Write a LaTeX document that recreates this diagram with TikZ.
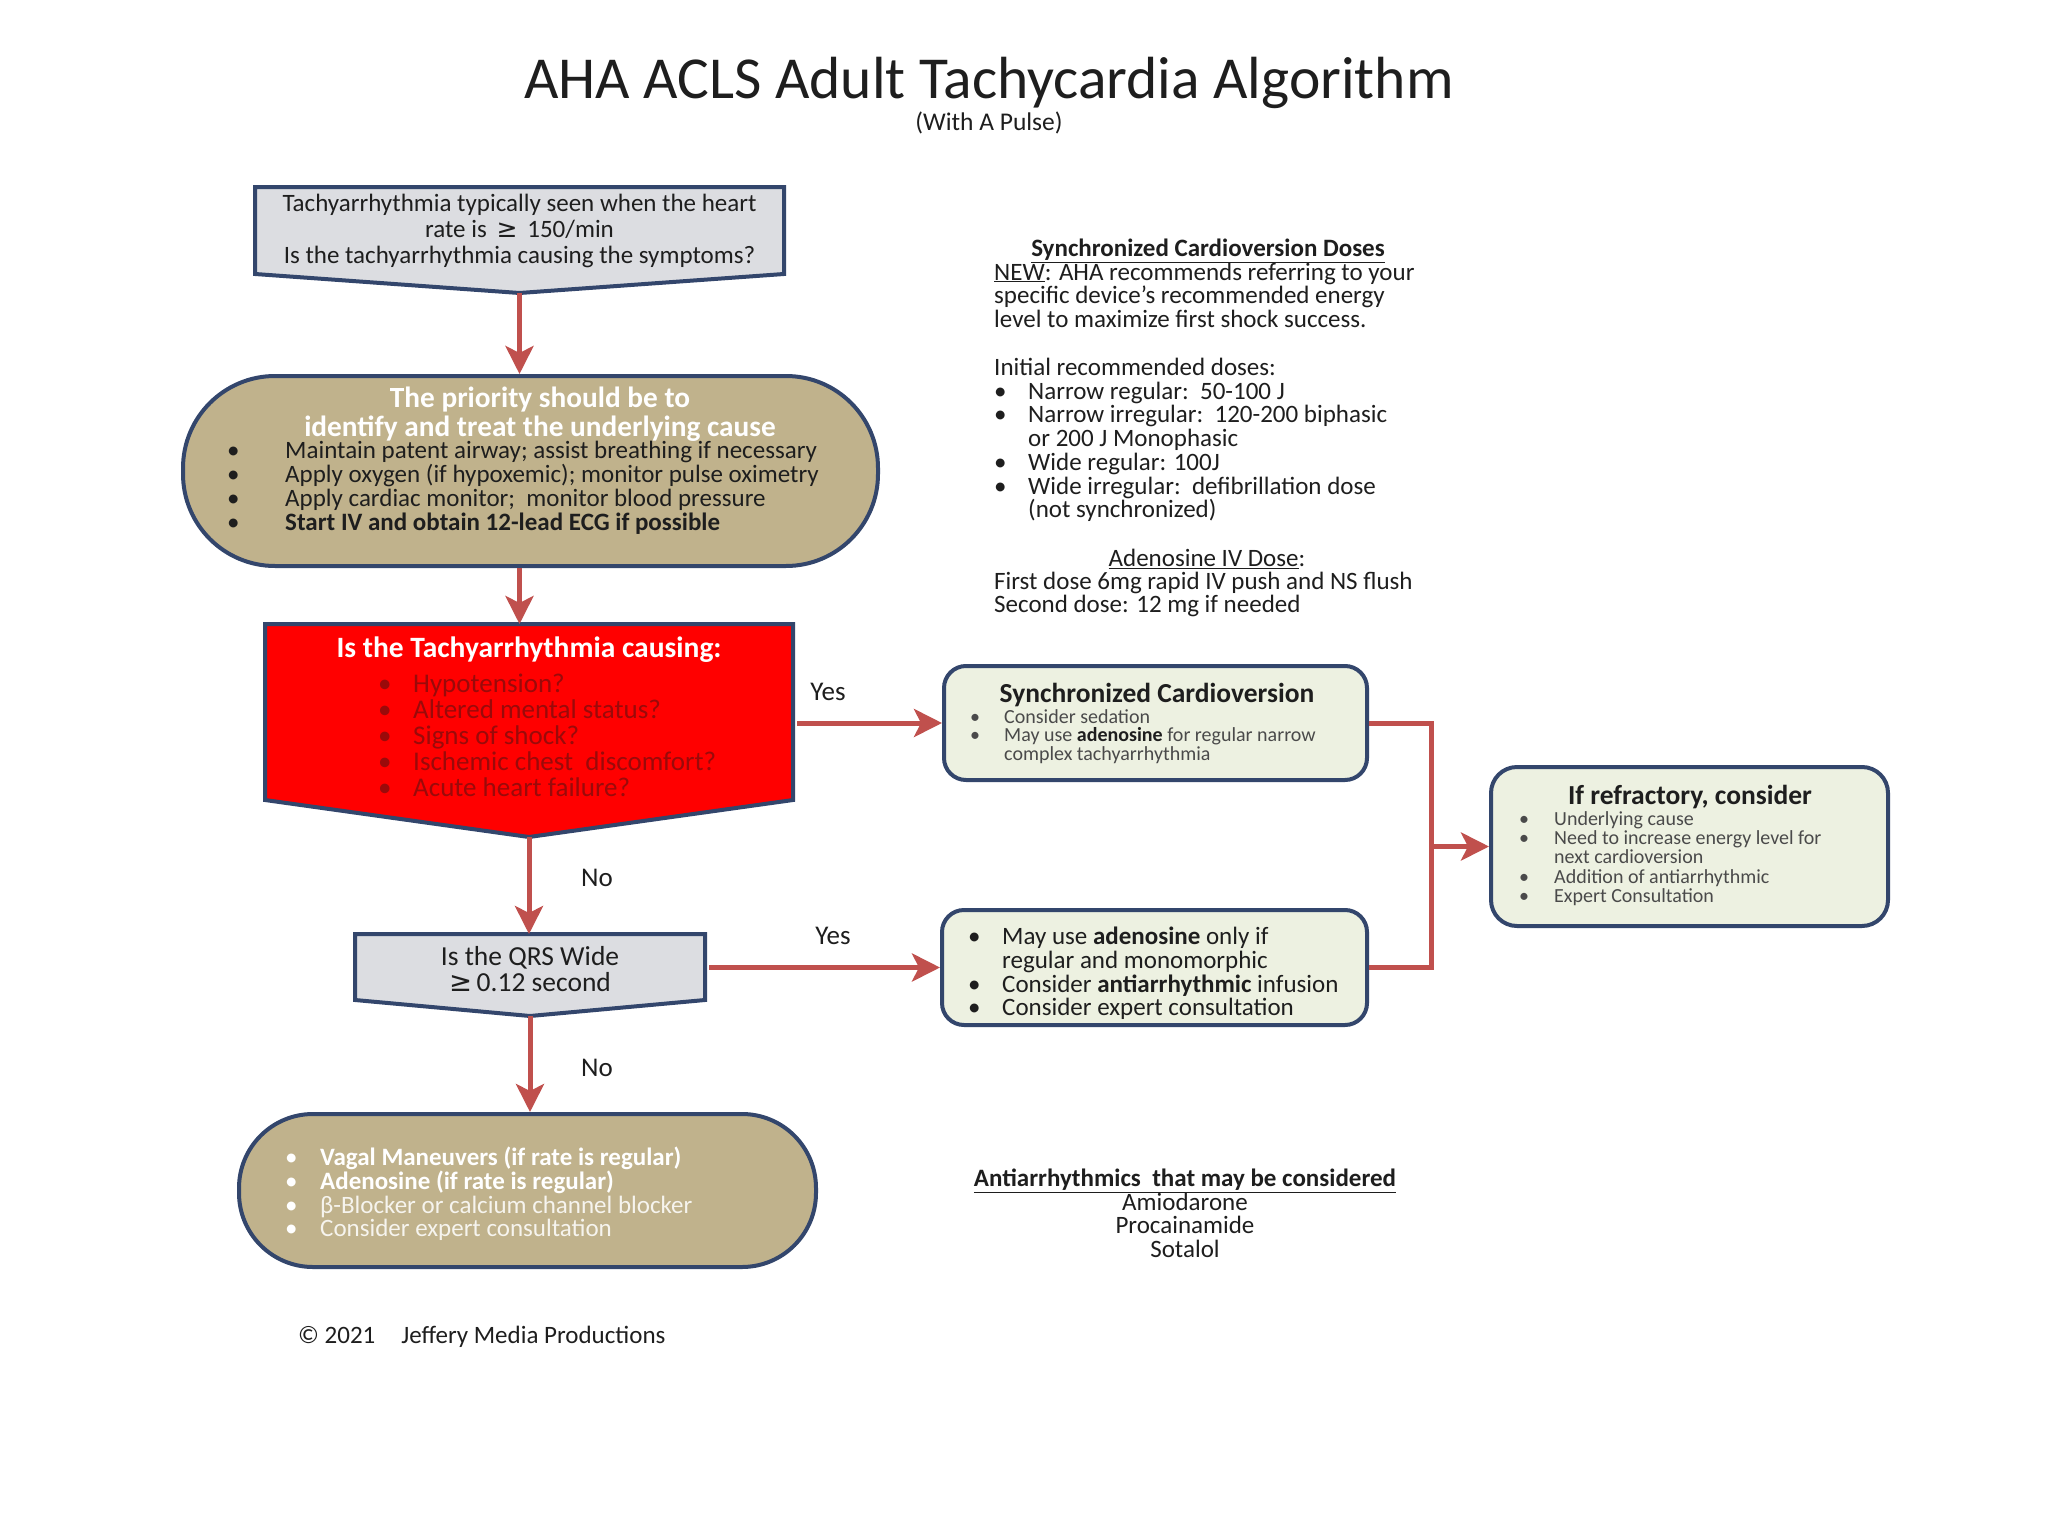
\documentclass[tikz,border=0pt]{standalone}
\usepackage{fontspec}
\setmainfont{Carlito}
\newfontfamily\symfont{DejaVu Sans}
\usetikzlibrary{arrows.meta,calc}
\definecolor{bord}{HTML}{33466C}
\definecolor{gbox}{HTML}{DCDDE1}
\definecolor{tanfill}{HTML}{C0B28C}
\definecolor{pgreen}{HTML}{EDF1E1}
\definecolor{arrred}{HTML}{C0504D}
\definecolor{txt}{HTML}{1E1E1E}
\definecolor{dred}{HTML}{9A0A0A}
\definecolor{graytxt}{HTML}{4A4A4A}
\newcommand\fsz[2]{\fontsize{#1}{#2}\selectfont}
\newcommand\bul[2]{\makebox[#1][l]{•}{#2}}
\begin{document}
\begin{tikzpicture}[x=1pt,y=-1pt,
  frame/.style={draw=bord, line width=4pt},
  holder/.style={inner sep=0pt, outer sep=0pt},
  txtblock/.style={inner sep=0pt, align=left, text=txt},
  ctext/.style={inner sep=0pt, align=center, text=txt},
  arr/.style={draw=arrred, line width=5pt, -{Stealth[length=28pt,width=28pt,inset=7pt]}},
  conn/.style={draw=arrred, line width=5pt},
  lbl/.style={inner sep=0pt, text=txt, font=\fsz{27}{28}}]
\useasboundingbox[fill=white] (0,0) rectangle (2048,1536);

% title
\node[ctext, font=\fsz{59.5}{62}] (title) at (989,83) {AHA ACLS Adult Tachycardia Algorithm};
\node[ctext, font=\fsz{25.5}{27}] (subtitle) at (989,123) {(With A Pulse)};

% box 1
\node[holder, minimum width=529pt, minimum height=87pt] (b1) at (519.5,230.5) {};
\coordinate (b1tip) at (519.5,293);
\draw[frame, fill=gbox] (b1.north west) -- (b1.north east) -- (b1.south east) -- (b1tip) -- (b1.south west) -- cycle;
\node[ctext, font=\fsz{25}{26}] (t1) at (519.5,230.5) {Tachyarrhythmia typically seen when the heart\\ rate is \,{\symfont ≥}\, 150/min\\ Is the tachyarrhythmia causing the symptoms?};

% box 2
\node[frame, fill=tanfill, rounded corners=92pt, minimum width=695pt, minimum height=190pt, inner sep=0pt] (b2) at (530.5,471) {};
\node[ctext, text=white, font=\fsz{29.3}{29}\bfseries] (t2h) at (540,414) {The priority should be to\\ identify and treat the underlying cause};
\node[txtblock, anchor=west, font=\fsz{25}{24}] (t2b) at (227,488) {\bul{58pt}{Maintain patent airway; assist breathing if necessary}\\
 \bul{58pt}{Apply oxygen (if hypoxemic); monitor pulse oximetry}\\
 \bul{58pt}{Apply cardiac monitor;\ \ monitor blood pressure}\\
 \bul{58pt}{\bfseries Start IV and obtain 12-lead ECG if possible}};

% box 3
\node[holder, minimum width=528pt, minimum height=176pt] (b3) at (529,712) {};
\coordinate (b3tip) at (529,837);
\draw[frame, fill=red] (b3.north west) -- (b3.north east) -- (b3.south east) -- (b3tip) -- (b3.south west) -- cycle;
\node[ctext, text=white, font=\fsz{29.5}{30}\bfseries] (t3h) at (529,650) {Is the Tachyarrhythmia causing:};
\node[txtblock, text=dred, anchor=west, font=\fsz{27}{26}] (t3b) at (378,735) {\bul{35pt}{Hypotension?}\\
 \bul{35pt}{Altered mental status?}\\
 \bul{35pt}{Signs of shock?}\\
 \bul{35pt}{Ischemic chest\ \ discomfort?}\\
 \bul{35pt}{Acute heart failure?}};

% box 4
\node[holder, minimum width=350pt, minimum height=66pt] (b4) at (530,967) {};
\coordinate (b4tip) at (530,1016);
\draw[frame, fill=gbox] (b4.north west) -- (b4.north east) -- (b4.south east) -- (b4tip) -- (b4.south west) -- cycle;
\node[ctext, font=\fsz{27.5}{26}] (t4) at (530,969) {Is the QRS Wide\\ {\symfont ≥}\,0.12 second};

% box 5
\node[frame, fill=tanfill, rounded corners=74pt, minimum width=577pt, minimum height=153pt, inner sep=0pt] (b5) at (527.5,1190.5) {};
\node[txtblock, text=white, anchor=west, font=\fsz{25}{23.7}] (t5) at (285,1194) {\bul{35pt}{\bfseries Vagal Maneuvers (if rate is regular)}\\
 \bul{35pt}{\bfseries Adenosine (if rate is regular)}\\
 \bul{35pt}{\color{white!85!tanfill}β-Blocker or calcium channel blocker}\\
 \bul{35pt}{\color{white!85!tanfill}Consider expert consultation}};

% box 6
\node[frame, fill=pgreen, rounded corners=22pt, minimum width=423pt, minimum height=114pt, inner sep=0pt] (b6) at (1155.5,723) {};
\node[ctext, font=\fsz{27.5}{28}\bfseries] (t6h) at (1157,695.5) {Synchronized Cardioversion};
\node[txtblock, text=graytxt, anchor=west, font=\fsz{20}{18.5}] (t6b) at (970,736.5) {\bul{34pt}{Consider sedation}\\
 \bul{34pt}{May use \textbf{\color{txt}adenosine} for regular narrow}\\
 \hspace*{34pt}complex tachyarrhythmia};

% box 7
\node[frame, fill=pgreen, rounded corners=22pt, minimum width=425pt, minimum height=115pt, inner sep=0pt] (b7) at (1154.5,967.5) {};
\node[txtblock, anchor=west, font=\fsz{25}{23.7}] (t7b) at (968,973.5) {\bul{34pt}{May use \textbf{adenosine} only if}\\
 \hspace*{34pt}regular and monomorphic\\
 \bul{34pt}{Consider \textbf{antiarrhythmic} infusion}\\
 \bul{34pt}{Consider expert consultation}};

% box 8
\node[frame, fill=pgreen, rounded corners=26pt, minimum width=397pt, minimum height=159pt, inner sep=0pt] (b8) at (1689.5,846.5) {};
\node[ctext, font=\fsz{27.5}{28}\bfseries] (t8h) at (1690,797.5) {If refractory, consider};
\node[txtblock, text=graytxt, anchor=west, font=\fsz{20}{19.2}] (t8b) at (1519,858.5) {\bul{35pt}{Underlying cause}\\
 \bul{35pt}{Need to increase energy level for}\\
 \hspace*{35pt}next cardioversion\\
 \bul{35pt}{Addition of antiarrhythmic}\\
 \bul{35pt}{Expert Consultation}};

% side notes
\node[ctext, font=\fsz{25}{26}\bfseries] (sh) at (1208,251) {\underline{Synchronized Cardioversion Doses}};
\node[txtblock, anchor=west, font=\fsz{25}{23.5}] (sp) at (994,295) {\underline{NEW}: AHA recommends referring to your\\
 specific device’s recommended energy\\
 level to maximize first shock success.};
\node[txtblock, anchor=west, font=\fsz{25}{23.7}] (sd) at (994,440) {Initial recommended doses:\\
 \bul{34pt}{Narrow regular:\ \ 50-100 J}\\
 \bul{34pt}{Narrow irregular:\ \ 120-200 biphasic}\\
 \hspace*{34pt}or 200 J Monophasic\\
 \bul{34pt}{Wide regular: 100J}\\
 \bul{34pt}{Wide irregular:\ \ defibrillation dose}\\
 \hspace*{34pt}(not synchronized)};
\node[ctext, font=\fsz{25}{26}] (ah) at (1207,559) {\underline{Adenosine IV Dose}:};
\node[txtblock, anchor=west, font=\fsz{25}{23.5}] (al) at (994,594.5) {First dose 6mg rapid IV push and NS flush\\
 Second dose: 12 mg if needed};

\node[ctext, font=\fsz{25}{26}\bfseries] (anh) at (1185,1181) {\underline{Antiarrhythmics\ \ that may be considered}};
\node[ctext, font=\fsz{25}{23.5}] (anl) at (1185,1225) {Amiodarone\\ Procainamide\\ Sotalol};

\node[txtblock, anchor=west, font=\fsz{25}{26}] (copy) at (298,1337) {© 2021\hspace{26pt}Jeffery Media Productions};

% connectors
\draw[arr] (b1tip) -- (b1tip |- b2.north);
\draw[arr] (b1tip |- b2.south) -- (b1tip |- b3.north);
\draw[arr] (b3tip) -- (b3tip |- b4.north);
\draw[arr] (b4tip) -- (b4tip |- b5.north);
\draw[arr, shorten <=4pt] (b3.east |- b6.west) -- (b6.west);
\draw[arr, shorten <=4pt] (b4.east |- b7.west) -- (b7.west);
\coordinate (j) at (1431,846.5);
\draw[conn] (b6.east) -| (j) |- (b7.east);
\draw[arr] (j) -- (b8.west);

\node[lbl] (yes1) at (828,692) {Yes};
\node[lbl] (yes2) at (833,936) {Yes};
\node[lbl] (no1) at (597,878) {No};
\node[lbl] (no2) at (597,1068) {No};
\end{tikzpicture}
\end{document}
